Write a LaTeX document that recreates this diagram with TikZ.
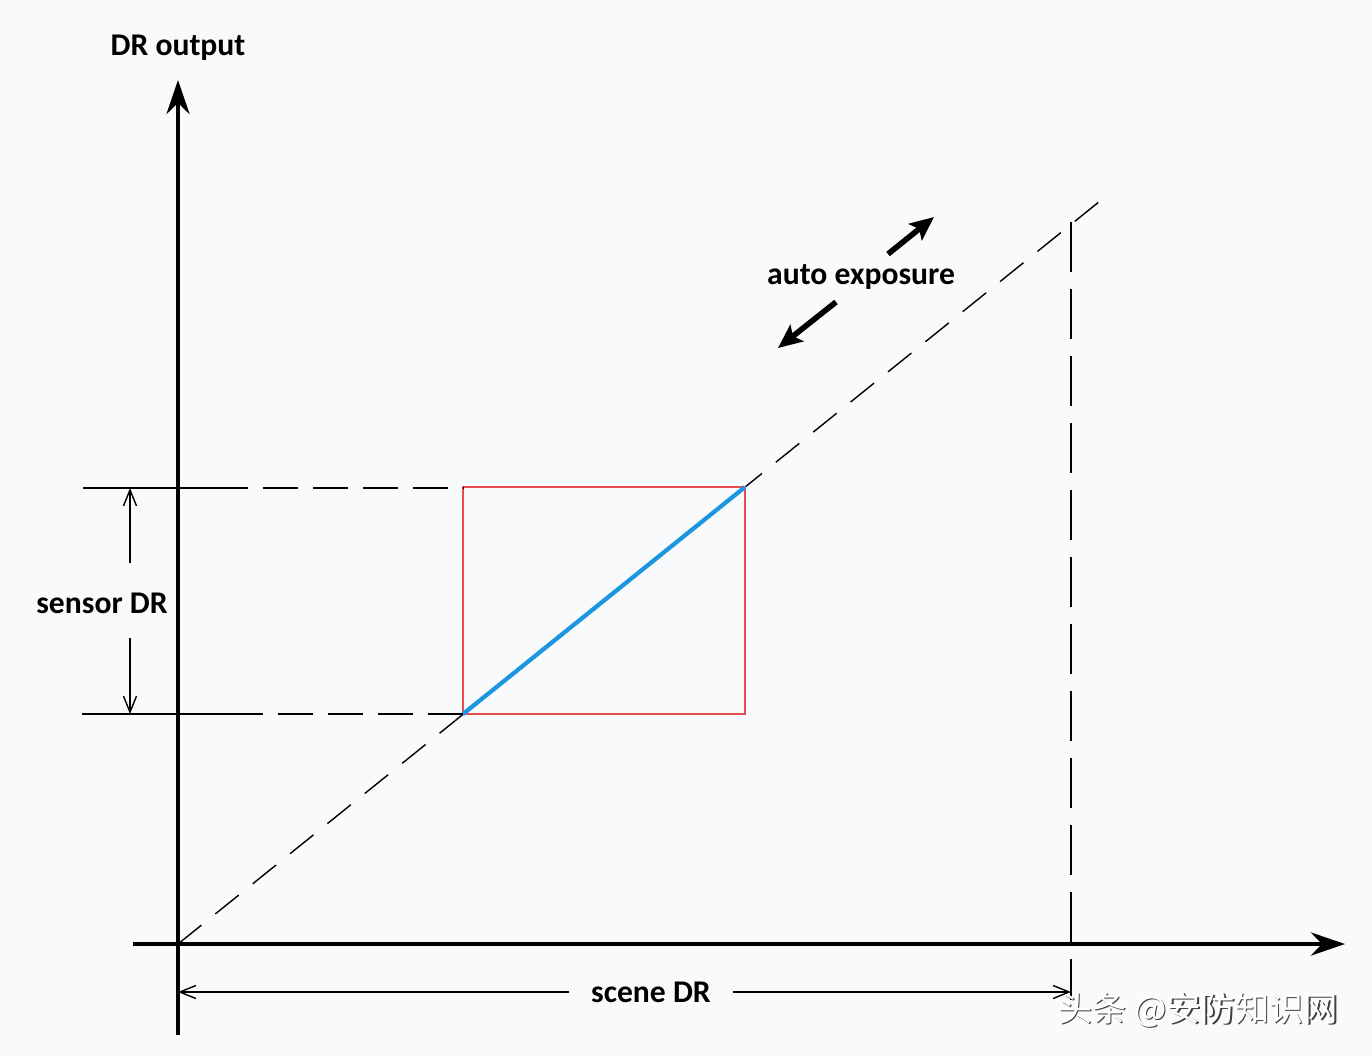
\documentclass[tikz,border=0pt]{standalone}
\usepackage{fontspec}
\setmainfont{Carlito}
\newfontfamily\cjk{Noto Sans CJK SC}
\usetikzlibrary{arrows.meta}
\definecolor{bgcol}{RGB}{249,250,252}
\definecolor{curveblue}{RGB}{28,150,222}
\definecolor{boxred}{RGB}{232,78,78}
\tikzset{
  axis/.style={line width=2.6pt,-{Stealth[length=0.68cm,width=0.46cm,inset=0.22cm]}},
  thinline/.style={line width=0.8pt},
  dashline/.style={thinline,dash pattern=on 0.7cm off 0.3cm},
  diagline/.style={thinline,dash pattern=on 0.6cm off 0.36cm},
  dimarrow/.style={thinline,-{Straight Barb[length=0.32cm,width=0.26cm]}},
  aearrow/.style={line width=3.2pt,-{Stealth[length=0.48cm,width=0.42cm,inset=0.1cm]}},
  lbl/.style={font=\fontsize{18}{20}\selectfont\bfseries,inner sep=1pt}
}
\begin{document}
\begin{tikzpicture}[x=0.02cm,y=-0.02cm]
  \fill[bgcol] (0,0) rectangle (1372,1056);
  \useasboundingbox (0,0) rectangle (1372,1056);
  % points
  \coordinate (origin) at (178,944);
  \coordinate (ytop) at (178,80);
  \coordinate (ybot) at (178,1035);
  \coordinate (xleft) at (133,944);
  \coordinate (xright) at (1345,944);
  \coordinate (diagend) at (1105,197);
  \coordinate (boxlo) at (463,714);
  \coordinate (boxhi) at (745,487);
  \coordinate (scenetop) at (1071,222);
  \coordinate (scenebot) at (1071,1000);
  % axes
  \draw[axis] (ybot) -- (ytop);
  \draw[axis] (xleft) -- (xright);
  \node[lbl] (ylabel) at (178,48) {DR output};
  % diagonal and sensor window
  \draw[diagline] (origin) -- (diagend);
  \draw[boxred,line width=0.7pt] (boxlo |- boxhi) rectangle (boxhi |- boxlo);
  \draw[curveblue,line width=2.4pt] (boxlo) -- (boxhi);
  % sensor DR
  \coordinate (stopl) at (83,488);
  \coordinate (stopm) at (213,488);
  \coordinate (sbotl) at (82,714);
  \coordinate (sbotm) at (228,714);
  \draw[thinline] (stopl) -- (stopm);
  \draw[dashline] (stopm) -- (boxlo |- stopm);
  \draw[thinline] (sbotl) -- (sbotm);
  \draw[dashline] (sbotm) -- (boxlo);
  \node[lbl] (sensor) at (102,603) {sensor DR};
  \coordinate (upfrom) at (130,563);
  \coordinate (downfrom) at (130,638);
  \draw[dimarrow] (upfrom) -- (upfrom |- stopl);
  \draw[dimarrow] (downfrom) -- (downfrom |- sbotl);
  % scene DR
  \draw[thinline,dash pattern=on 1.0cm off 0.34cm] (scenetop) -- (scenebot);
  \node[lbl] (scene) at (651,992) {scene DR};
  \draw[dimarrow] (scene.west) ++(-20,0) -- (origin |- scene);
  \draw[dimarrow] (scene.east) ++(20,0) -- (scenetop |- scene);
  % auto exposure
  \node[lbl] (ae) at (861,277) {auto exposure};
  \draw[aearrow] (888,254) -- (934,217);
  \draw[aearrow] (836,302) -- (778,348);
  % watermark
  \node[text=black!75] at (1199.5,1011.5) {\cjk\fontsize{19.5}{21}\selectfont 头条 @安防知识网};
  \node[text=white] (mark) at (1198,1010) {\cjk\fontsize{19.5}{21}\selectfont 头条 @安防知识网};
\end{tikzpicture}
\end{document}
